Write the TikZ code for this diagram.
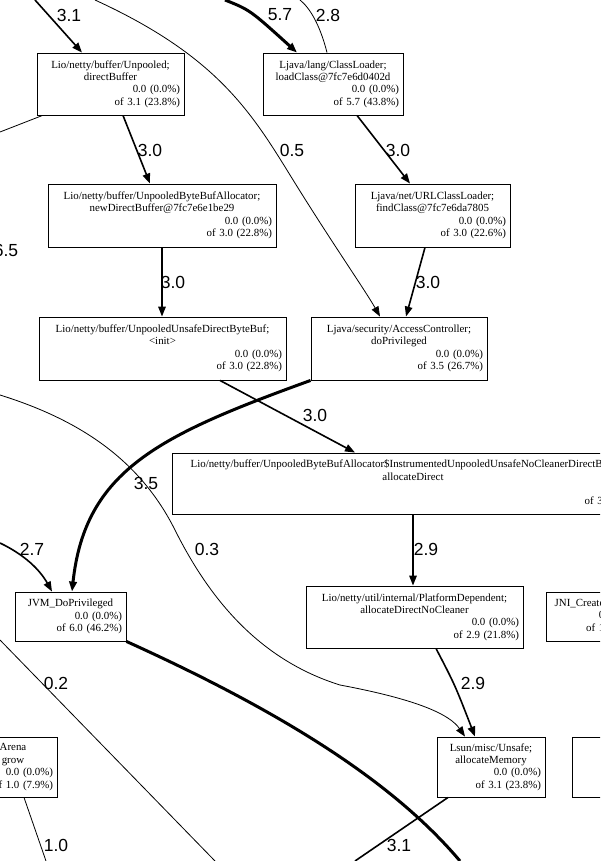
\documentclass[tikz,border=0pt]{standalone}
\usepackage{fontspec}
\setmainfont{Liberation Serif}
\newfontfamily\lblfont{Liberation Sans}
\usetikzlibrary{arrows.meta}
\newcommand\fnblock[4]{{\centering\makebox[\linewidth]{#1}\\#2\par}{\raggedleft #3\\#4\par}}
\tikzset{
  box/.style={draw, line width=0.9pt, rectangle, inner xsep=4pt, inner ysep=0pt,
    font=\fontsize{10.9}{12.4}\selectfont},
  lbl/.style={font=\lblfont\fontsize{17.5}{17.5}\selectfont, inner sep=0pt},
  e/.style={line width=0.8pt},
  em/.style={line width=1.6pt},
  eh/.style={line width=3pt},
  tip/.style={-{Triangle[length=10pt,width=7.5pt]}},
}
\begin{document}
\begin{tikzpicture}[x=1pt,y=-1pt]
\useasboundingbox (0,0) rectangle (600,861);
\clip (0,0) rectangle (600,861);
% nodes
\node[box, minimum width=147, minimum height=62, text width=139] (unpooled) at (110.5,84)
  {\fnblock{Lio/netty/buffer/Unpooled;}{directBuffer}{0.0 (0.0\%)}{of 3.1 (23.8\%)}};
\node[box, minimum width=140, minimum height=62, text width=132] (classloader) at (333,84)
  {\fnblock{Ljava/lang/ClassLoader;}{loadClass@7fc7e6d0402d}{0.0 (0.0\%)}{of 5.7 (43.8\%)}};
\node[box, minimum width=228, minimum height=63, text width=220] (ubba) at (162,215.5)
  {\fnblock{Lio/netty/buffer/UnpooledByteBufAllocator;}{newDirectBuffer@7fc7e6e1be29}{0.0 (0.0\%)}{of 3.0 (22.8\%)}};
\node[box, minimum width=155, minimum height=63, text width=147] (urlcl) at (432.5,215.5)
  {\fnblock{Ljava/net/URLClassLoader;}{findClass@7fc7e6da7805}{0.0 (0.0\%)}{of 3.0 (22.6\%)}};
\node[box, minimum width=247, minimum height=63, text width=239] (uudbb) at (162.5,348.5)
  {\fnblock{Lio/netty/buffer/UnpooledUnsafeDirectByteBuf;}{<init>}{0.0 (0.0\%)}{of 3.0 (22.8\%)}};
\node[box, minimum width=176, minimum height=63, text width=168] (access) at (399,348.5)
  {\fnblock{Ljava/security/AccessController;}{doPrivileged}{0.0 (0.0\%)}{of 3.5 (26.7\%)}};
\node[box, minimum width=482, minimum height=61, text width=474] (alloc) at (413,483.5)
  {\fnblock{Lio/netty/buffer/UnpooledByteBufAllocator\$InstrumentedUnpooledUnsafeNoCleanerDirectByteBuf;}{allocateDirect}{0.0 (0.0\%)}{of 3.0 (22.8\%)}};
\node[box, minimum width=111, minimum height=49, text width=103, align=center] (jvm) at (70.5,616.5)
  {JVM\_DoPrivileged\par{\raggedleft 0.0 (0.0\%)\\of 6.0 (46.2\%)\par}};
\node[box, minimum width=217, minimum height=62, text width=209] (pd) at (414.5,617)
  {\fnblock{Lio/netty/util/internal/PlatformDependent;}{allocateDirectNoCleaner}{0.0 (0.0\%)}{of 2.9 (21.8\%)}};
\node[box, minimum width=104, minimum height=49, text width=96, align=center] (jni) at (598,616.5)
  {JNI\_CreateJavaVM\par{\raggedleft 0.0 (0.0\%)\\of 1.0 (7.9\%)\par}};
\node[box, minimum width=88, minimum height=60, text width=80] (arena) at (13,767)
  {\fnblock{Arena}{grow}{0.0 (0.0\%)}{of 1.0 (7.9\%)}};
\node[box, minimum width=108, minimum height=60, text width=100] (unsafe) at (491,767)
  {\fnblock{Lsun/misc/Unsafe;}{allocateMemory}{0.0 (0.0\%)}{of 3.1 (23.8\%)}};
\node[box, minimum width=108, minimum height=60, text width=100] (thread) at (626,767)
  {\fnblock{Thread;}{create}{0.0 (0.0\%)}{of 1.0 (7.9\%)}};
% free ends
\coordinate (t1) at (35,0);
\coordinate (t2) at (95,0);
\coordinate (t3) at (225,0);
\coordinate (t4) at (300,0);
\coordinate (l1) at (0,132);
\coordinate (l2) at (0,395);
\coordinate (l3) at (0,543);
\coordinate (l4) at (0,640);
\coordinate (b1) at (215,861);
\coordinate (b2) at (460,861);
\coordinate (b3) at (355,861);
\coordinate (b4) at (46,861);
% edges
\draw[em, tip] (t1) -- ([xshift=-28.5]unpooled.north);
\draw[e, tip] (t2) .. controls (215,55) and (250,110) .. (290,175)
  .. controls (330,240) and (365,290) .. ([xshift=-19]access.north);
\draw[eh, tip] (t3) .. controls (250,10) .. ([xshift=-36]classloader.north);
\draw[e] ([xshift=-6]classloader.north) .. controls (320,25) and (310,8) .. (t4);
\draw[e] ([xshift=-68]unpooled.south) -- (l1);
\draw[em, tip] ([xshift=12.5]unpooled.south) -- ([xshift=-12]ubba.north);
\draw[em, tip] ([xshift=24]classloader.south) -- ([xshift=-22.5]urlcl.north);
\draw[em, tip] (ubba.south) -- (ubba.south|-uudbb.north);
\draw[em, tip] ([xshift=-7.5]urlcl.south) -- ([xshift=7]access.north);
\draw[em, tip] ([xshift=57.5]uudbb.south) -- ([xshift=-58]alloc.north);
\draw[eh, tip] (access.south west) .. controls (160,435) and (85,470) .. ([xshift=1.5]jvm.north);
\draw[e, tip] (l2) .. controls (80,420) and (140,460) .. (175,530)
  .. controls (210,600) and (260,660) .. (340,685)
  .. controls (420,700) and (450,715) .. ([xshift=-26]unsafe.north);
\draw[em, tip] (l3) .. controls (25,555) and (40,570) .. ([xshift=-18.5]jvm.north);
\draw[e] (l4) -- (b1);
\draw[eh] (jvm.south east) .. controls (300,720) and (400,790) .. (b2);
\draw[em] ([xshift=-43]unsafe.south) -- (b3);
\draw[e] ([xshift=11]arena.south) -- (b4);
\draw[em, tip] (alloc.south) -- (alloc.south|-pd.north);
\draw[em, tip] ([xshift=21.5]pd.south) .. controls (455,685) .. ([xshift=-16]unsafe.north);
% edge labels
\node[lbl] (n1) at (69,15) {3.1};
\node[lbl] (n2) at (280,15) {5.7};
\node[lbl] (n3) at (328,15) {2.8};
\node[lbl] (n4) at (150,150) {3.0};
\node[lbl] (n5) at (292,150) {0.5};
\node[lbl] (n6) at (398,150) {3.0};
\node[lbl] (n7) at (6,250) {6.5};
\node[lbl] (n8) at (173,282) {3.0};
\node[lbl] (n9) at (428,282) {3.0};
\node[lbl] (n10) at (315,415) {3.0};
\node[lbl] (n11) at (146,483) {3.5};
\node[lbl] (n12) at (32,549) {2.7};
\node[lbl] (n13) at (207,549) {0.3};
\node[lbl] (n14) at (426,549) {2.9};
\node[lbl] (n15) at (56,683) {0.2};
\node[lbl] (n16) at (473,683) {2.9};
\node[lbl] (n17) at (56,845) {1.0};
\node[lbl] (n18) at (399,845) {3.1};
\end{tikzpicture}
\end{document}
